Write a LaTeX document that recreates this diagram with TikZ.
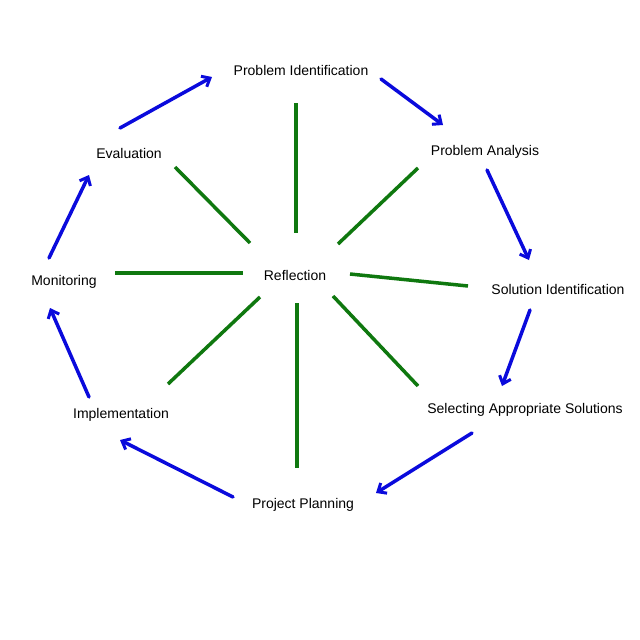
\documentclass[tikz,border=0pt]{standalone}
\usepackage{fontspec}
\setmainfont{Liberation Sans}
\usetikzlibrary{arrows.meta}
\definecolor{bl}{RGB}{10,10,220}
\definecolor{gr}{RGB}{15,120,15}
\begin{document}
\begin{tikzpicture}[x=1pt,y=-1pt,
  lbl/.style={font=\fontsize{14}{16}\selectfont,inner sep=1pt},
  flow/.style={draw=bl,line width=3.5pt,line cap=round,-{Straight Barb[length=7pt,width=12pt,line width=3pt]}},
  spoke/.style={draw=gr,line width=3.5pt}]
\useasboundingbox[fill=white] (0,0) rectangle (640,640);
\node[lbl] (pi) at (301,70) {Problem Identification};
\node[lbl] (pa) at (485,152) {Problem Analysis};
\node[lbl] (si) at (558,289) {Solution Identification};
\node[lbl] (sa) at (525,410) {Selecting Appropriate Solutions};
\node[lbl] (pp) at (303,505) {Project Planning};
\node[lbl] (im) at (121,415) {Implementation};
\node[lbl] (mo) at (64,282) {Monitoring};
\node[lbl] (ev) at (129,153) {Evaluation};
\node[lbl] (re) at (295,275) {Reflection};
\coordinate (e1s) at (120,128); \coordinate (e1e) at (212,77);
\coordinate (e2s) at (381,79);  \coordinate (e2e) at (443,125);
\coordinate (e3s) at (487,170); \coordinate (e3e) at (529,260);
\coordinate (e4s) at (530,310); \coordinate (e4e) at (502,386);
\coordinate (e5s) at (472,433); \coordinate (e5e) at (376,493);
\coordinate (e6s) at (233,497); \coordinate (e6e) at (120,440);
\coordinate (e7s) at (89,397);  \coordinate (e7e) at (50,308);
\coordinate (e8s) at (49,258);  \coordinate (e8e) at (89,175);
\foreach \i in {1,...,8}{\draw[flow] (e\i s) -- (e\i e);}
\coordinate (g1s) at (296,103); \coordinate (g1e) at (296,233);
\coordinate (g2s) at (418,168); \coordinate (g2e) at (338,244);
\coordinate (g3s) at (350,274); \coordinate (g3e) at (468,286);
\coordinate (g4s) at (333,296); \coordinate (g4e) at (418,386);
\coordinate (g5s) at (297,303); \coordinate (g5e) at (297,468);
\coordinate (g6s) at (260,297); \coordinate (g6e) at (168,384);
\coordinate (g7s) at (115,273); \coordinate (g7e) at (243,273);
\coordinate (g8s) at (175,167); \coordinate (g8e) at (250,243);
\foreach \i in {1,...,8}{\draw[spoke] (g\i s) -- (g\i e);}
\end{tikzpicture}
\end{document}
